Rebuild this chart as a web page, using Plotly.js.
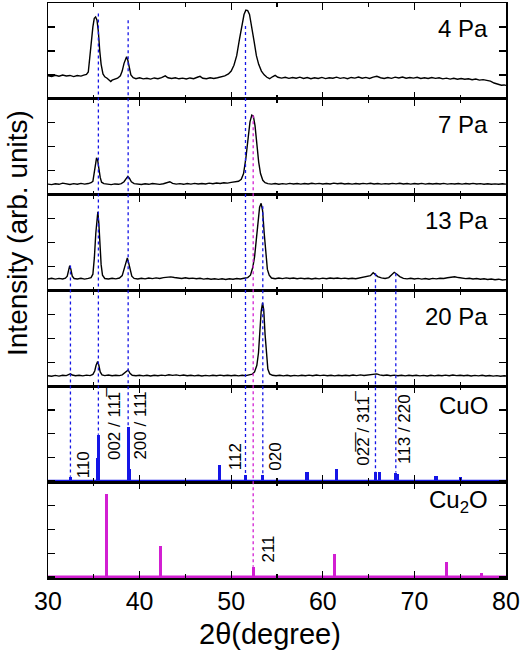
<!DOCTYPE html>
<html>
<head>
<meta charset="utf-8">
<script src="https://cdn.plot.ly/plotly-3.0.1.min.js"></script>
<style>html,body{margin:0;padding:0;background:#fff;}#chart{width:520px;height:651px;}</style>
</head>
<body>
<div id="chart"></div>
<script>
// ---- data (2θ in degrees, intensity in % of panel height) ----
const xRange = [30, 80];
const panelNames = ['4 Pa', '7 Pa', '13 Pa', '20 Pa', 'CuO', 'Cu<sub>2</sub>O'];

const pa4 = [[30.0,24],[30.4,23.4],[30.8,24.6],[31.2,23.6],[31.6,24.8],[32.0,23.9],[32.4,24.4],[32.8,23.2],[33.2,24.3],[33.6,23.7],[33.9,24.8],[34.2,25.5],[34.4,28],[34.6,50],[34.9,75],[35.05,84],[35.2,85.5],[35.35,82],[35.5,70],[35.65,50],[35.8,36],[36.0,26],[36.2,23],[36.45,21.5],[36.7,19],[36.85,18],[37.0,19.5],[37.3,20.5],[37.6,21.5],[37.9,24],[38.1,29],[38.3,37],[38.45,42],[38.58,44],[38.72,40],[38.85,33],[39.05,25],[39.3,22],[39.6,21],[40.0,22],[40.4,20.8],[40.8,21.5],[41.2,20.6],[41.6,21.8],[42.0,21],[42.4,22.2],[42.8,24],[43.1,22],[43.5,21.2],[43.9,22],[44.3,20.9],[44.7,21.6],[45.1,20.7],[45.5,21.8],[45.9,21],[46.3,22.5],[46.6,23.5],[46.9,21.5],[47.3,21],[47.7,22],[48.1,21.2],[48.5,22],[48.9,23],[49.3,24],[49.7,26],[50.0,29],[50.3,35],[50.6,45],[50.9,62],[51.15,77],[51.4,88],[51.6,92.5],[51.8,92],[52.0,88],[52.25,76],[52.5,60],[52.75,45],[53.0,36],[53.3,29],[53.6,25],[53.9,22.5],[54.2,21],[54.5,23],[54.8,24.5],[55.1,22.5],[55.5,21.6],[55.9,22.5],[56.3,21.4],[56.7,22.3],[57.1,21.5],[57.5,22.6],[57.9,21.2],[58.3,22.2],[58.7,21],[59.1,22],[59.5,21.3],[59.9,22.4],[60.3,21.1],[60.7,22],[61.1,21.5],[61.5,22.6],[61.9,21.4],[62.3,22.1],[62.7,21],[63.1,22.3],[63.5,21.6],[63.9,22.8],[64.3,21.5],[64.7,22.4],[65.1,21.2],[65.5,22.6],[65.9,23.5],[66.3,22],[66.7,21.3],[67.1,22.2],[67.5,21.4],[67.9,22.6],[68.3,21.8],[68.7,22.8],[69.1,21.5],[69.5,22.3],[69.9,21.6],[70.3,22.5],[70.7,21.3],[71.1,22],[71.5,21.2],[71.9,22.2],[72.3,21.4],[72.7,22],[73.1,20.8],[73.5,21.6],[73.9,20.6],[74.3,21.4],[74.7,20.5],[75.1,21.2],[75.5,20.4],[75.9,21],[76.3,20],[76.7,20.6],[77.1,19.5],[77.5,20],[77.9,19],[78.3,18.5],[78.7,16.5],[79.1,15],[79.5,14.2],[79.8,14.5],[80.0,14]];

const pa7 = [[30.0,11],[30.4,10.5],[30.8,11.4],[31.2,10.8],[31.6,12],[32.0,11.2],[32.4,10.6],[32.8,11.5],[33.2,10.9],[33.6,11.8],[34.0,11],[34.4,11.6],[34.7,12.5],[34.9,14],[35.05,22],[35.2,33],[35.3,38.5],[35.42,36],[35.55,27],[35.7,18],[35.85,13],[36.1,11.5],[36.5,11],[36.9,10.5],[37.3,11.2],[37.7,10.8],[38.0,11.5],[38.3,13.5],[38.55,17],[38.72,19],[38.9,17],[39.1,13.5],[39.4,11.5],[39.8,11],[40.2,10.6],[40.6,11.3],[41.0,10.8],[41.4,11.6],[41.8,11],[42.2,10.7],[42.6,11.4],[43.0,12.5],[43.3,13.5],[43.6,11.8],[44.0,11],[44.4,11.5],[44.8,10.8],[45.2,11.6],[45.6,11],[46.0,11.8],[46.4,11.1],[46.8,11.7],[47.2,11.2],[47.6,12],[48.0,11.4],[48.4,12.2],[48.8,11.6],[49.2,12.4],[49.6,12],[50.0,12.8],[50.4,13.2],[50.8,14],[51.1,16],[51.35,22],[51.6,38],[51.85,60],[52.05,76],[52.25,83],[52.42,82],[52.6,72],[52.8,52],[53.0,34],[53.2,22],[53.45,15],[53.7,12.5],[54.0,11.5],[54.4,11],[54.8,11.6],[55.2,10.9],[55.6,11.5],[56.0,11],[56.4,11.8],[56.8,11.1],[57.2,11.6],[57.6,11],[58.0,11.7],[58.4,11.2],[58.8,11.9],[59.2,11.3],[59.6,11.8],[60.0,11.1],[60.4,11.7],[60.8,11.2],[61.2,12],[61.6,11.4],[62.0,11.9],[62.4,11.2],[62.8,11.7],[63.2,11],[63.6,11.6],[64.0,11.1],[64.4,11.8],[64.8,11.3],[65.2,11.9],[65.6,11.2],[66.0,11.6],[66.4,11],[66.8,11.5],[67.2,11.1],[67.6,11.8],[68.0,11.3],[68.4,11.9],[68.8,11.1],[69.2,11.6],[69.6,11],[70.0,11.7],[70.4,11.2],[70.8,11.8],[71.2,11],[71.6,11.6],[72.0,11.1],[72.4,11.7],[72.8,11.2],[73.2,11.8],[73.6,11],[74.0,11.5],[74.4,11.1],[74.8,11.7],[75.2,11],[75.6,11.6],[76.0,11.2],[76.4,11.8],[76.8,11.1],[77.2,11.5],[77.6,10.9],[78.0,11.4],[78.4,10.8],[78.8,11.3],[79.2,10.9],[79.6,11.4],[80.0,11]];

const pa13 = [[30.0,12],[30.4,12.8],[30.8,11.9],[31.2,12.6],[31.6,12],[31.9,12.8],[32.1,15],[32.25,22],[32.37,26],[32.5,22],[32.65,15],[32.85,12.5],[33.2,12],[33.6,12.8],[34.0,11.9],[34.4,12.6],[34.7,13.5],[34.9,17],[35.06,34],[35.22,60],[35.35,76],[35.44,82],[35.55,70],[35.65,50],[35.8,27],[35.95,16],[36.2,12.5],[36.6,12],[37.0,12.8],[37.4,12.1],[37.8,13],[38.1,15.5],[38.35,23],[38.55,31],[38.66,34],[38.8,29],[38.95,22],[39.15,15],[39.4,12.6],[39.8,12],[40.2,12.7],[40.6,12.1],[41.0,13],[41.4,12.4],[41.8,13.2],[42.2,12.6],[42.6,13.4],[43.0,13.8],[43.4,14.2],[43.8,13.6],[44.2,13.1],[44.6,12.6],[45.0,13.3],[45.4,12.5],[45.8,12.9],[46.2,12.2],[46.6,12.8],[47.0,11.9],[47.4,12.5],[47.8,11.7],[48.2,12.3],[48.6,11.6],[49.0,12.2],[49.4,11.5],[49.8,12.3],[50.2,11.8],[50.6,12.5],[51.0,12],[51.4,12.8],[51.8,13.5],[52.1,16],[52.35,24],[52.55,35],[52.75,55],[52.95,75],[53.1,87],[53.27,91],[53.43,83],[53.6,60],[53.78,36],[53.95,22],[54.15,16],[54.4,13],[54.8,12.3],[55.2,13],[55.6,12.4],[56.0,13.2],[56.4,12.5],[56.8,13.1],[57.2,12.3],[57.6,12.9],[58.0,12.2],[58.4,12.8],[58.8,12],[59.2,12.7],[59.6,12.1],[60.0,12.9],[60.4,12.3],[60.8,13],[61.2,12.5],[61.6,13.1],[62.0,12.4],[62.4,12.9],[62.8,12.2],[63.2,12.8],[63.6,12.3],[64.0,13],[64.4,13.4],[64.8,14],[65.2,15.5],[65.5,18.5],[65.75,16],[66.0,14.5],[66.4,13.2],[66.8,12.6],[67.2,13.5],[67.5,16.5],[67.8,19],[68.1,17],[68.4,14.5],[68.8,12.7],[69.2,12.1],[69.6,12.7],[70.0,12],[70.4,12.6],[70.8,11.9],[71.2,12.5],[71.6,11.8],[72.0,12.6],[72.4,12.1],[72.8,12.8],[73.2,12.5],[73.6,13.3],[74.0,13.6],[74.4,14.3],[74.8,13.5],[75.2,13],[75.6,12.4],[76.0,12.8],[76.4,12],[76.8,12.5],[77.2,11.7],[77.6,12.2],[78.0,11.5],[78.4,12],[78.8,11.3],[79.2,11.8],[79.6,11],[80.0,11.3]];

const pa20 = [[30.0,11],[30.4,10.5],[30.8,11.4],[31.2,10.7],[31.6,11.6],[32.0,11.2],[32.3,12.5],[32.45,13],[32.65,11.8],[33.0,11],[33.4,11.6],[33.8,10.9],[34.2,11.7],[34.6,11.2],[34.9,12.5],[35.1,16],[35.25,22],[35.42,26],[35.55,22],[35.7,15],[35.9,12],[36.2,11.2],[36.6,11.8],[37.0,11],[37.4,11.6],[37.8,11.2],[38.1,12],[38.4,14.5],[38.6,16.5],[38.75,17],[38.95,13.5],[39.2,11.5],[39.6,11],[40.0,11.6],[40.4,10.9],[40.8,11.5],[41.2,10.8],[41.6,11.6],[42.0,11],[42.4,11.7],[42.8,11.2],[43.2,12],[43.6,11.4],[44.0,11.9],[44.4,11.2],[44.8,11.8],[45.2,11],[45.6,11.6],[46.0,10.9],[46.4,11.5],[46.8,10.8],[47.2,11.4],[47.6,10.9],[48.0,11.6],[48.4,11],[48.8,11.7],[49.2,11.1],[49.6,11.6],[50.0,11],[50.4,11.5],[50.8,10.9],[51.2,11.6],[51.6,11.2],[52.0,12],[52.3,12.8],[52.55,15],[52.8,22],[52.98,35],[53.12,56],[53.27,78],[53.42,87],[53.55,80],[53.7,54],[53.85,30],[54.0,18],[54.2,13],[54.5,11.5],[54.9,11],[55.3,11.6],[55.7,10.9],[56.1,11.5],[56.5,10.8],[56.9,11.4],[57.3,10.9],[57.7,11.6],[58.1,11],[58.5,11.7],[58.9,11.1],[59.3,11.8],[59.7,11.2],[60.1,11.7],[60.5,11],[60.9,11.6],[61.3,10.9],[61.7,11.5],[62.1,11],[62.5,11.6],[62.9,11.1],[63.3,11.8],[63.7,11.2],[64.1,11.9],[64.5,11.3],[64.9,11.8],[65.3,11.5],[65.7,12.6],[65.9,13],[66.2,12],[66.6,11.3],[67.0,11.8],[67.4,11.1],[67.8,11.7],[68.2,11],[68.6,11.6],[69.0,10.9],[69.4,11.5],[69.8,11],[70.2,11.6],[70.6,10.9],[71.0,11.4],[71.4,10.8],[71.8,11.5],[72.2,10.9],[72.6,11.6],[73.0,11],[73.4,11.7],[73.8,11.1],[74.2,11.8],[74.6,11.2],[75.0,11.6],[75.4,11],[75.8,11.5],[76.2,10.8],[76.6,11.4],[77.0,10.9],[77.4,11.5],[77.8,10.8],[78.2,11.3],[78.6,10.7],[79.0,11.2],[79.4,10.6],[79.8,11.1],[80.0,10.8]];

// reference stick patterns
const cuoPos = [32.45, 35.42, 35.5, 38.75, 38.92, 46.26, 48.72, 51.56, 53.45, 56.73, 58.26, 61.52, 65.75, 66.22, 67.97, 68.14, 72.37, 75.06];
const cuoInt = [4.4, 24, 49, 57, 13, 1, 17, 6, 6, 1, 9.5, 13, 10, 10, 9, 7, 5, 4];
const cu2oPos = [36.4, 42.3, 52.4, 61.3, 69.6, 73.5, 77.3];
const cu2oInt = [87, 33, 10.7, 24.5, 1, 16, 4.5];

// Miller index labels
const cuoHkl = ['110', '002 / 11\u0031\u0305', '200 / 111', '112', '020', '02\u0305\u0032\u0305 / 31\u0031\u0305', '113 / 220'];
const cuoHklPos = [33.9, 37.2, 40.15, 50.44, 54.8, 64.43, 68.98];
const cuoHklBase = [1, 20.5, 20.5, 9, 9, 14, 16];
const cu2oHkl = ['211'];
const cu2oHklPos = [54.07];
const cu2oHklBase = [13];

// dotted guide lines: position, start panel & level, end panel & level
const guideX = [32.45, 35.5, 38.75, 51.56, 53.45, 65.75, 67.97, 52.4];
const guideFromPanel = [2, 0, 0, 0, 2, 2, 2, 1];
const guideFromVal = [26, 89, 82, 76, 88, 18, 18, 83];
const guideToPanel = [4, 4, 4, 4, 4, 4, 4, 5];
const guideToVal = [4.4, 49, 57, 6, 6, 10, 9, 10.7];
const guideKind = ['CuO', 'CuO', 'CuO', 'CuO', 'CuO', 'CuO', 'CuO', 'Cu2O'];

// ---- styling ----
const BLUE = '#1515e6';
const MAG = '#d21fd2';
const FONT = 'Liberation Sans, Arial, Helvetica, DejaVu Sans, sans-serif';
const curveRange = [0, 100];
const stickRange = [-1.2, 100];
const panelRanges = [curveRange, curveRange, curveRange, curveRange, stickRange, stickRange];
const N = 6;

function paperY(panel, val) {
  const r = panelRanges[panel];
  const f = (val - r[0]) / (r[1] - r[0]);
  return (N - 1 - panel + f) / N;
}

const curves = [pa4, pa7, pa13, pa20];
const traces = [];
curves.forEach((c, i) => {
  traces.push({
    type: 'scatter', mode: 'lines',
    x: c.map(p => p[0]), y: c.map(p => p[1]),
    xaxis: i === 0 ? 'x' : 'x' + (i + 1), yaxis: i === 0 ? 'y' : 'y' + (i + 1),
    line: {color: '#000', width: 1.4}, hoverinfo: 'skip', showlegend: false
  });
});
// stick patterns
traces.push({type: 'scatter', mode: 'lines', x: xRange, y: [0, 0], xaxis: 'x5', yaxis: 'y5',
  line: {color: BLUE, width: 2.6}, showlegend: false, hoverinfo: 'skip'});
traces.push({type: 'bar', x: cuoPos, y: cuoInt, width: 0.36, xaxis: 'x5', yaxis: 'y5',
  marker: {color: BLUE, line: {width: 0}}, showlegend: false, hoverinfo: 'skip'});
traces.push({type: 'scatter', mode: 'lines', x: xRange, y: [0, 0], xaxis: 'x6', yaxis: 'y6',
  line: {color: MAG, width: 2.6}, showlegend: false, hoverinfo: 'skip'});
traces.push({type: 'bar', x: cu2oPos, y: cu2oInt, width: 0.36, xaxis: 'x6', yaxis: 'y6',
  marker: {color: MAG, line: {width: 0}}, showlegend: false, hoverinfo: 'skip'});

const layout = {
  width: 520, height: 651,
  margin: {l: 48, r: 14, t: 3, b: 73},
  paper_bgcolor: '#fff', plot_bgcolor: 'rgba(0,0,0,0)',
  font: {family: FONT, color: '#000'},
  showlegend: false, bargap: 0,
  shapes: [], annotations: []
};

for (let i = 0; i < N; i++) {
  const sx = i === 0 ? '' : String(i + 1);
  layout['yaxis' + sx] = {
    domain: [(N - 1 - i) / N, (N - i) / N], range: panelRanges[i],
    tick0: 0, dtick: 25, ticks: 'inside', ticklen: 7, tickwidth: 1.3, tickcolor: '#000',
    mirror: 'ticks', showline: true, linewidth: 1.5, linecolor: '#000',
    showticklabels: false, showgrid: false, zeroline: false, fixedrange: true,
    anchor: 'x' + sx
  };
  const xa = {
    anchor: 'y' + sx, range: xRange, tick0: 30, dtick: 10,
    ticks: 'inside', ticklen: 7, tickwidth: 1.3, tickcolor: '#000',
    minor: {dtick: 5, ticks: 'inside', ticklen: 4, tickwidth: 1.3, tickcolor: '#000', showgrid: false},
    mirror: 'ticks', showline: true, linewidth: 1.5, linecolor: '#000',
    showticklabels: i === N - 1, tickfont: {size: 25, family: FONT, color: '#000'},
    showgrid: false, zeroline: false, fixedrange: true
  };
  if (i > 0) xa.matches = 'x';
  layout['xaxis' + sx] = xa;

  layout.annotations.push({
    xref: 'paper', yref: 'paper', x: 0.966, y: paperY(i, i < 4 ? 73 : 80),
    xanchor: 'right', yanchor: 'middle', text: panelNames[i], showarrow: false,
    font: {size: 24, family: FONT, color: '#000'}
  });
}

cuoHkl.forEach((t, k) => {
  layout.annotations.push({xref: 'x5', yref: 'y5', x: cuoHklPos[k], y: cuoHklBase[k],
    text: t, textangle: -90, xanchor: 'center', yanchor: 'bottom', showarrow: false,
    font: {size: 17, family: FONT, color: '#000'}});
});
cu2oHkl.forEach((t, k) => {
  layout.annotations.push({xref: 'x6', yref: 'y6', x: cu2oHklPos[k], y: cu2oHklBase[k],
    text: t, textangle: -90, xanchor: 'center', yanchor: 'bottom', showarrow: false,
    font: {size: 17, family: FONT, color: '#000'}});
});

guideX.forEach((gx, k) => {
  layout.shapes.push({type: 'line', xref: 'x', yref: 'paper', layer: 'above',
    x0: gx, x1: gx, y0: paperY(guideFromPanel[k], guideFromVal[k]), y1: paperY(guideToPanel[k], guideToVal[k]),
    line: {color: guideKind[k] === 'CuO' ? BLUE : MAG, width: 1.3, dash: 'dot'}});
});

// axis titles
layout.annotations.push({xref: 'paper', yref: 'paper', x: (17 - 48) / 458, y: (578 - 233) / 575,
  text: 'Intensity (arb. units)', textangle: -90, showarrow: false, xanchor: 'center', yanchor: 'middle',
  borderpad: 0, font: {size: 28, family: FONT, color: '#000'}});
layout.annotations.push({xref: 'paper', yref: 'paper', x: (270 - 48) / 458, y: (578 - 634) / 575,
  text: '2θ(degree)', showarrow: false, xanchor: 'center', yanchor: 'middle',
  font: {size: 29, family: FONT, color: '#000'}});

Plotly.newPlot('chart', traces, layout, {staticPlot: true, displayModeBar: false});
</script>
</body>
</html>
